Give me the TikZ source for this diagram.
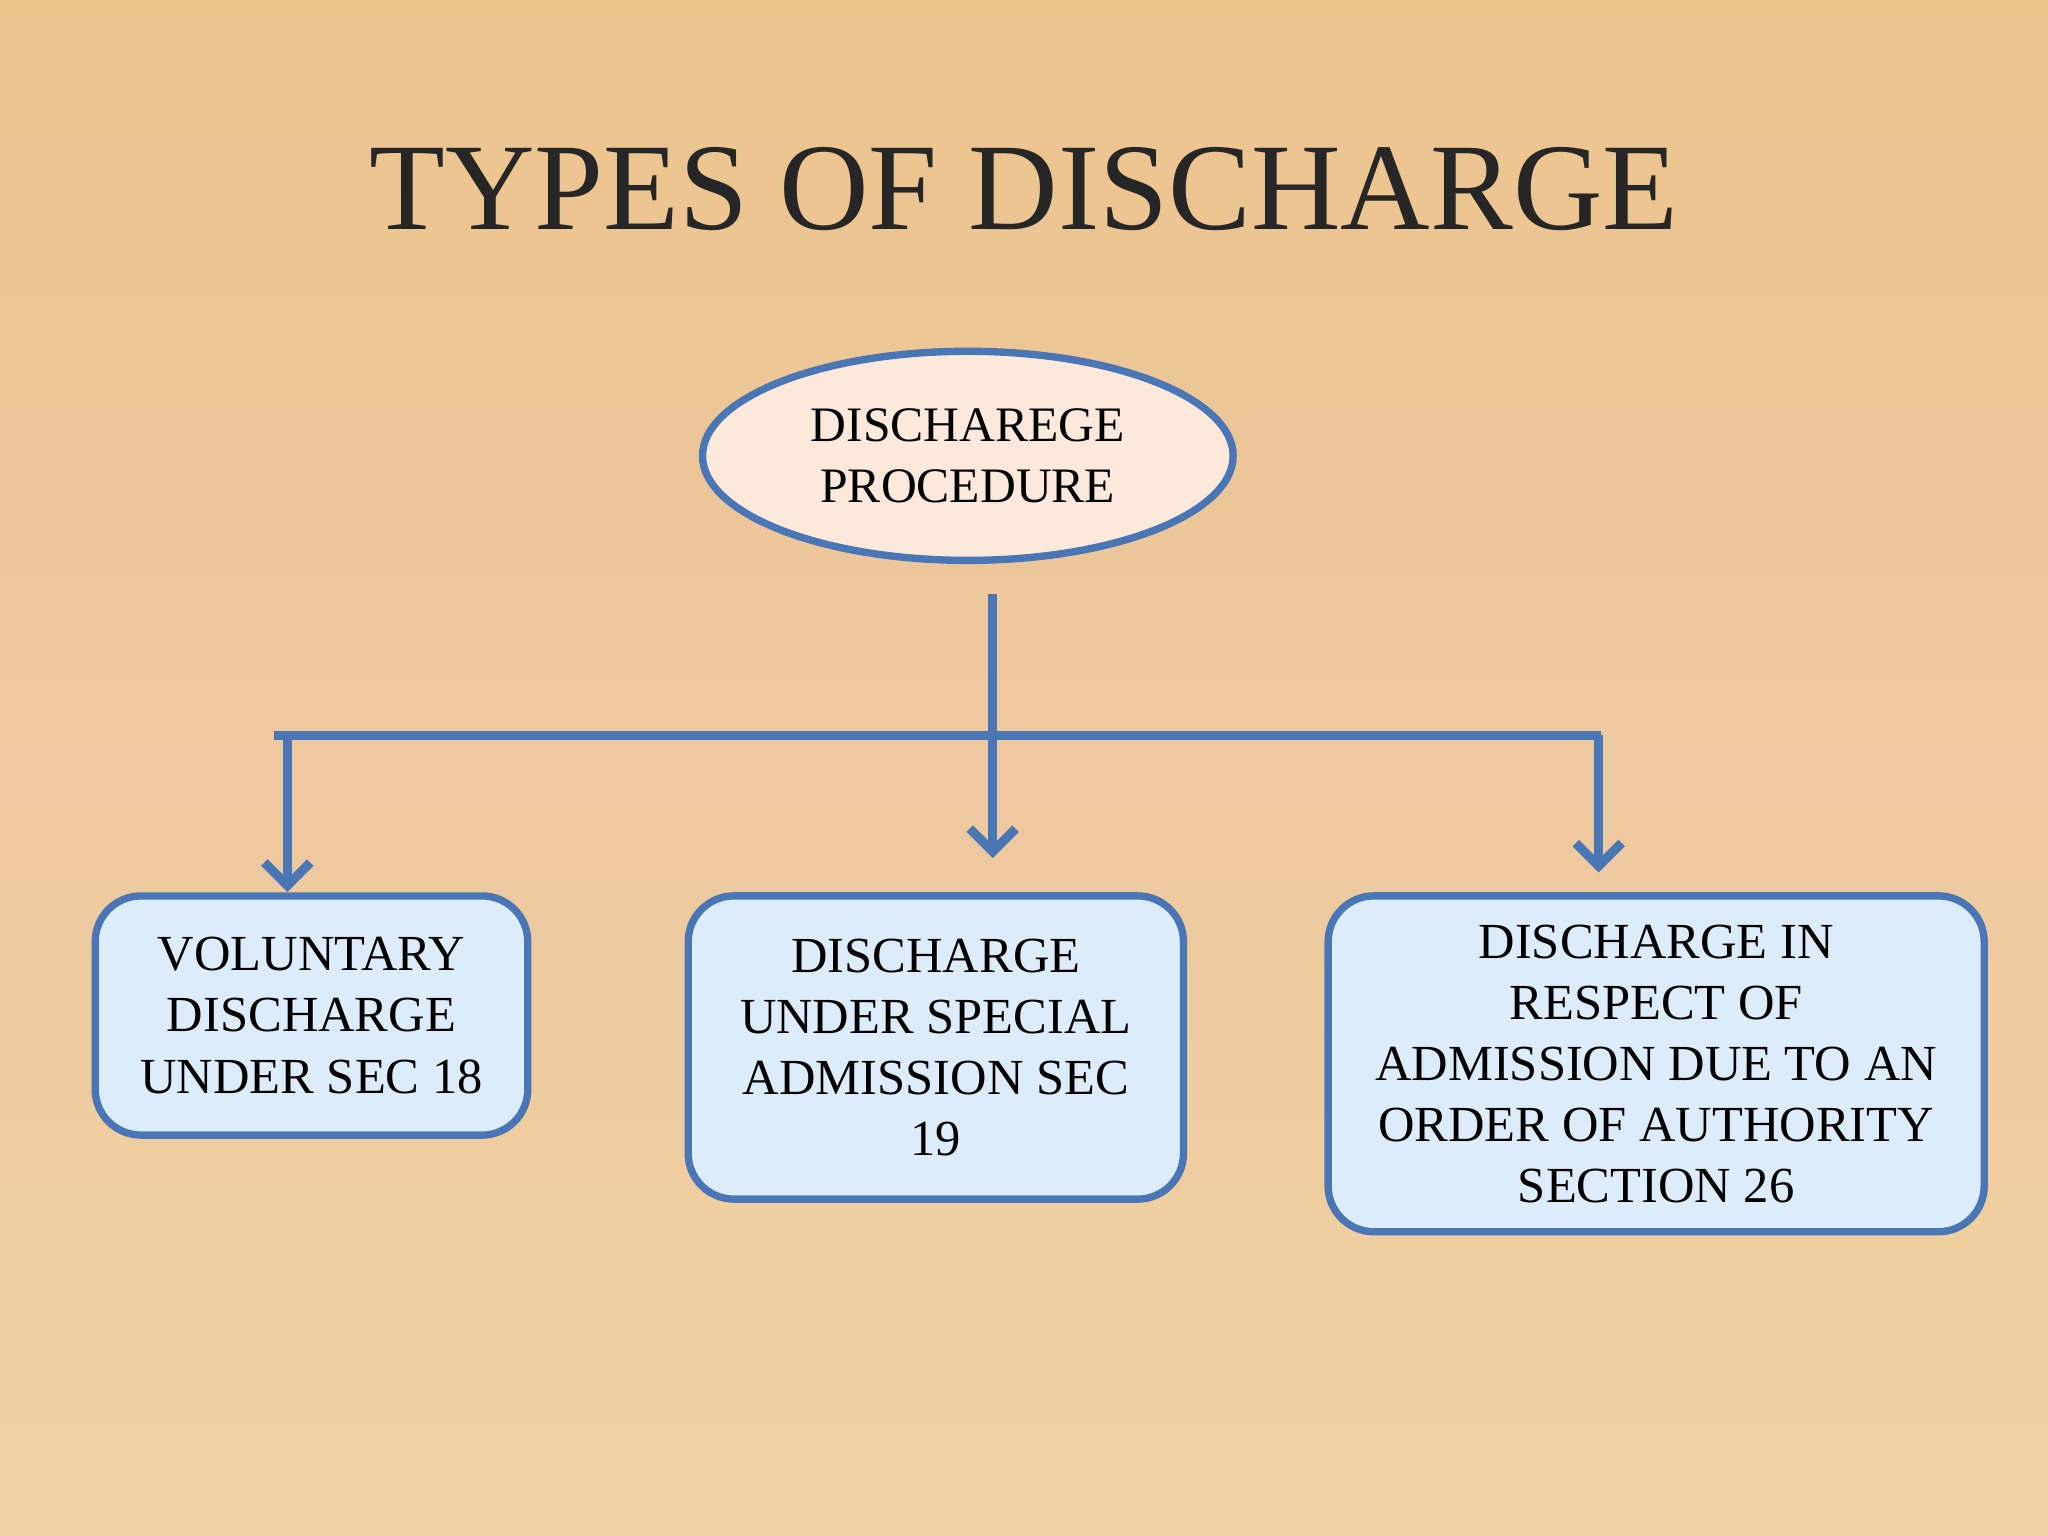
\documentclass[tikz,border=0pt]{standalone}
\usepackage{fontspec}
\setmainfont{Liberation Serif}
\usetikzlibrary{arrows.meta,shapes.geometric}
\definecolor{ln}{RGB}{74,118,182}
\definecolor{bx}{RGB}{221,236,250}
\definecolor{el}{RGB}{252,233,220}
\definecolor{bgt}{RGB}{236,196,140}
\definecolor{bgm}{RGB}{238,200,160}
\definecolor{bgb}{RGB}{240,210,160}
\tikzset{
 box/.style={draw=ln,line width=1.6pt,fill=bx,rounded corners=0.35cm,align=center,font=\fontsize{11}{13.3}\selectfont,inner sep=0pt},
 conn/.style={draw=ln,line width=2pt},
 arr/.style={conn,-{Straight Barb[length=5pt,width=10pt]}}
}
\begin{document}
\begin{tikzpicture}[x=0.01cm,y=-0.01cm]
\useasboundingbox (0,0) rectangle (1568,1176);
\shade[top color=bgt,bottom color=bgb,middle color=bgm] (0,0) rectangle (1568,1176);
\node[font=\fontsize{27}{32}\selectfont,text=black!85] (title) at (784,145) {TYPES OF DISCHARGE};
\node[ellipse,draw=ln,line width=1.6pt,fill=el,minimum width=4.06cm,minimum height=1.6cm,inner sep=0pt,align=center,font=\fontsize{10.8}{13.3}\selectfont] (root) at (741,349) {DISCHAREGE\\PROCEDURE};
\node[box,minimum width=3.31cm,minimum height=1.83cm] (b1) at (238.5,777.5) {VOLUNTARY\\DISCHARGE\\UNDER SEC 18};
\node[box,minimum width=3.79cm,minimum height=2.32cm] (b2) at (716.5,802) {DISCHARGE\\UNDER SPECIAL\\ADMISSION SEC\\19};
\node[box,minimum width=5.02cm,minimum height=2.57cm] (b3) at (1268,814.5) {DISCHARGE IN\\RESPECT OF\\ADMISSION DUE TO AN\\ORDER OF AUTHORITY\\SECTION 26};
\coordinate (top) at (760,455);
\coordinate (hl) at (210,563);
\coordinate (hr) at (1226,563);
\coordinate (t1) at (220,683);
\coordinate (t2) at (760,657);
\coordinate (t3) at (1224,668);
\draw[arr] (top) -- (t2);
\draw[conn] (hl) -- (hr);
\draw[arr] (220,563) -- (t1);
\draw[arr] (1224,563) -- (t3);
\end{tikzpicture}
\end{document}
